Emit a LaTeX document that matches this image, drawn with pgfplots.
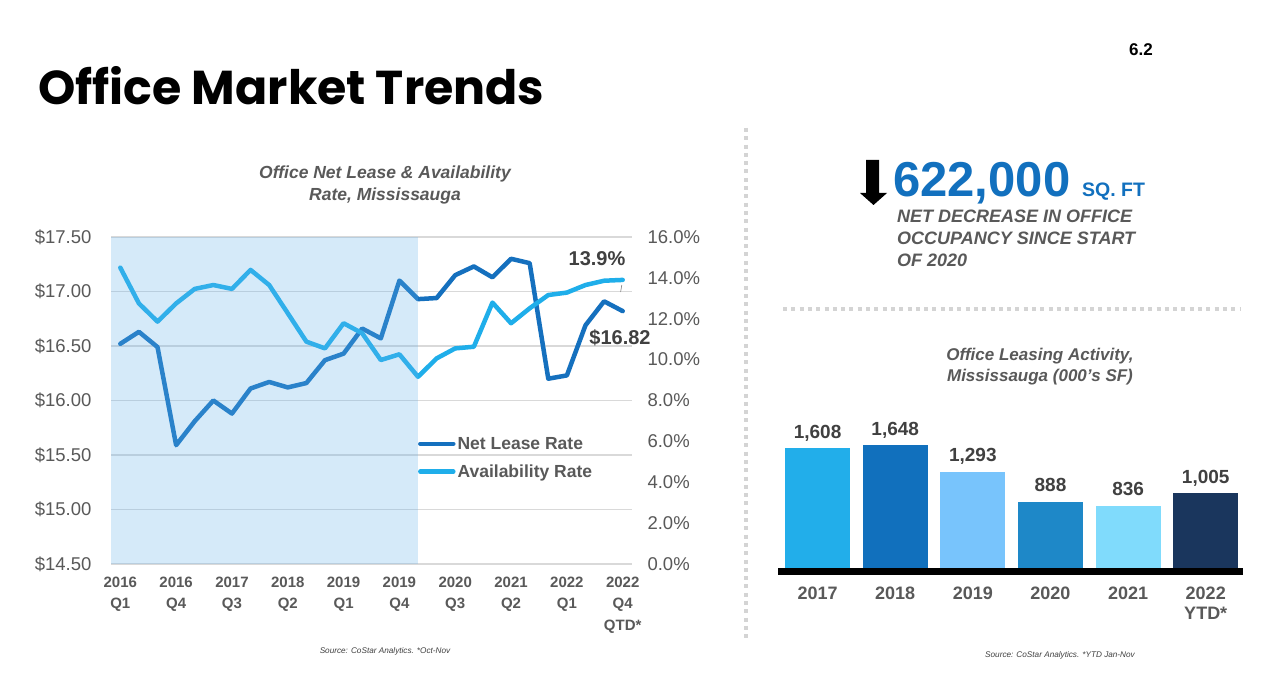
\documentclass[border=0pt]{standalone}
\usepackage{fontspec}
\setmainfont{Liberation Sans}
\newfontfamily\titlefont{Poppins}
\usepackage{pgfplots}
\pgfplotsset{compat=1.18}

\definecolor{netc}{HTML}{1570BE}
\definecolor{availc}{HTML}{1FAEEA}
\definecolor{shadec}{RGB}{100,180,236}
\definecolor{txtgray}{HTML}{595959}
\definecolor{dkgray}{HTML}{404040}
\definecolor{gridc}{HTML}{D9D9D9}
\definecolor{bigblue}{HTML}{1270BE}
\definecolor{dotc}{HTML}{D4D4D4}
\definecolor{bA}{HTML}{22AEEA}
\definecolor{bB}{HTML}{1170BD}
\definecolor{bC}{HTML}{78C4FC}
\definecolor{bD}{HTML}{1E88C8}
\definecolor{bE}{HTML}{80DBFC}
\definecolor{bF}{HTML}{1A365D}

\pgfplotstableread{
idx netlease avail
0  16.52 14.50
1  16.63 12.75
2  16.49 11.86
3  15.59 12.75
4  15.81 13.46
5  16.00 13.65
6  15.88 13.46
7  16.11 14.39
8  16.17 13.65
9  16.12 12.27
10 16.16 10.88
11 16.37 10.55
12 16.43 11.78
13 16.66 11.29
14 16.57 9.98
15 17.10 10.26
16 16.93 9.16
17 16.94 10.06
18 17.15 10.55
19 17.23 10.63
20 17.13 12.79
21 17.30 11.78
22 17.26 12.51
23 16.20 13.16
24 16.23 13.28
25 16.69 13.65
26 16.91 13.86
27 16.82 13.90
}\trendtable

\begin{document}
\begin{tikzpicture}[x=1pt,y=1pt]
\useasboundingbox (0,0) rectangle (1282,680);
\fill[white] (0,0) rectangle (1282,680);

% Page title
\node[anchor=base west, inner sep=0] at (38,575) {\titlefont\bfseries\fontsize{47.5}{50}\selectfont Office Market Trends};
\node[anchor=base, inner sep=0] at (1141,624) {\bfseries\fontsize{17}{17}\selectfont 6.2};

% Separators
\draw[dotc, line width=4pt, dash pattern=on 4pt off 4.3pt] (745.7,552) -- (745.7,40);
\draw[dotc, line width=4pt, dash pattern=on 4pt off 4.3pt] (783,371) -- (1240,371);

% Left chart title
\node[align=center, text=txtgray, font=\bfseries\itshape\fontsize{17.5}{22}\selectfont] at (385,495) {Office Net Lease \& Availability\\Rate, Mississauga};

% Left axis ($)
\begin{axis}[
  at={(111pt,116pt)}, anchor=south west, scale only axis,
  width=521pt, height=327pt,
  xmin=-0.5, xmax=27.5, ymin=14.5, ymax=17.5,
  axis line style={draw=none}, major tick length=0pt,
  ymajorgrids, grid style={gridc, line width=1.3pt},
  ytick={14.5,15,15.5,16,16.5,17,17.5},
  yticklabels={\$14.50,\$15.00,\$15.50,\$16.00,\$16.50,\$17.00,\$17.50},
  yticklabel style={text=txtgray, font=\fontsize{18.5}{18.5}\selectfont, xshift=-16pt},
  xtick={0,3,...,27},
  xticklabels={{2016\\Q1},{2016\\Q4},{2017\\Q3},{2018\\Q2},{2019\\Q1},{2019\\Q4},{2020\\Q3},{2021\\Q2},{2022\\Q1},{2022\\Q4\\QTD*}},
  xticklabel style={align=center, text=txtgray, font=\bfseries\fontsize{15}{21.5}\selectfont, yshift=-9pt},
  clip=false,
]
\addplot[netc, line width=4.5pt, line join=round, line cap=round] table[x=idx, y=netlease] {\trendtable};
\end{axis}

% Right axis (%)
\begin{axis}[
  at={(111pt,116pt)}, anchor=south west, scale only axis,
  width=521pt, height=327pt,
  xmin=-0.5, xmax=27.5, ymin=0, ymax=16,
  axis y line*=right, axis x line=none,
  axis line style={draw=none}, major tick length=0pt,
  ytick={0,2,...,16},
  yticklabels={0.0\%,2.0\%,4.0\%,6.0\%,8.0\%,10.0\%,12.0\%,14.0\%,16.0\%},
  yticklabel style={text=txtgray, font=\fontsize{18.5}{18.5}\selectfont, xshift=12pt},
  legend style={at={(rel axis cs:0.589,0.395)}, anchor=north west, draw=none, fill=none,
    font=\bfseries\fontsize{17.5}{17.5}\selectfont, text=txtgray, row sep=10pt,
    inner sep=0pt, column sep=0pt},
  legend cell align=left,
  legend image code/.code={\draw[#1, line cap=round] (0pt,0pt) -- (33pt,0pt);},
]
\addlegendimage{netc, line width=4.5pt}
\addlegendentry{Net Lease Rate}
\addlegendimage{availc, line width=4.5pt}
\addlegendentry{Availability Rate}
\addplot[availc, line width=4.5pt, line join=round, line cap=round, forget plot] table[x=idx, y=avail] {\trendtable};
\fill[shadec, opacity=0.27] (axis cs:-0.5,0) rectangle (axis cs:16,16);
\end{axis}

% Annotations
\node[text=dkgray, font=\bfseries\fontsize{20}{20}\selectfont] at (597,421) {13.9\%};
\node[text=dkgray, font=\bfseries\fontsize{20}{20}\selectfont] at (620,342) {\$16.82};
\draw[gray, line width=0.6pt] (621.8,395) -- (620.6,388);

% Source left
\node[text=dkgray, font=\itshape\fontsize{8.2}{8.2}\selectfont] at (385,29) {Source: CoStar Analytics. *Oct-Nov};

% Big stat
\fill[black] (866,520) -- (879,520) -- (879,487) -- (887,487) -- (873.5,475) -- (860,487) -- (866,487) -- cycle;
\node[anchor=base west, inner sep=0, text=bigblue] at (893,483) {\bfseries\fontsize{49}{49}\selectfont 622,000};
\node[anchor=base west, inner sep=0, text=bigblue] at (1082,483) {\bfseries\fontsize{19.5}{19.5}\selectfont SQ. FT};
\node[anchor=base west, inner sep=0, text=txtgray] at (897,457) {\bfseries\itshape\fontsize{18}{18}\selectfont NET DECREASE IN OFFICE};
\node[anchor=base west, inner sep=0, text=txtgray] at (897,435) {\bfseries\itshape\fontsize{18}{18}\selectfont OCCUPANCY SINCE START};
\node[anchor=base west, inner sep=0, text=txtgray] at (897,413) {\bfseries\itshape\fontsize{18}{18}\selectfont OF 2020};

% Bar chart title
\node[align=center, text=txtgray, font=\bfseries\itshape\fontsize{17}{21}\selectfont] at (1040,313) {Office Leasing Activity,\\Mississauga (000’s SF)};

% Bar chart
\begin{axis}[
  at={(778pt,112pt)}, anchor=south west, scale only axis,
  width=465pt, height=200pt,
  xmin=-0.51, xmax=5.48, ymin=0, ymax=2685,
  axis line style={draw=none}, major tick length=0pt,
  ytick=\empty,
  xtick={0,...,5},
  xticklabels={2017,2018,2019,2020,2021,{2022\\YTD*}},
  xticklabel style={align=center, text=txtgray, font=\bfseries\fontsize{18}{20}\selectfont, yshift=-15pt},
  ybar, bar width=65pt, bar shift=0pt,
  nodes near coords={\pgfmathprintnumber[assume math mode=true, 1000 sep={,}]{\pgfplotspointmeta}},
  every node near coord/.append style={text=dkgray, font=\bfseries\fontsize{19}{19}\selectfont, anchor=base, yshift=10pt},
  clip=false,
]
\addplot[fill=bA, draw=none] coordinates {(0,1608)};
\addplot[fill=bB, draw=none] coordinates {(1,1648)};
\addplot[fill=bC, draw=none] coordinates {(2,1293)};
\addplot[fill=bD, draw=none] coordinates {(3,888)};
\addplot[fill=bE, draw=none] coordinates {(4,836)};
\addplot[fill=bF, draw=none] coordinates {(5,1005)};
\end{axis}
\draw[black, line width=7pt] (778,108) -- (1243,108);

\node[text=dkgray, font=\itshape\fontsize{8.2}{8.2}\selectfont] at (1060,25) {Source: CoStar Analytics. *YTD Jan-Nov};
\end{tikzpicture}
\end{document}
